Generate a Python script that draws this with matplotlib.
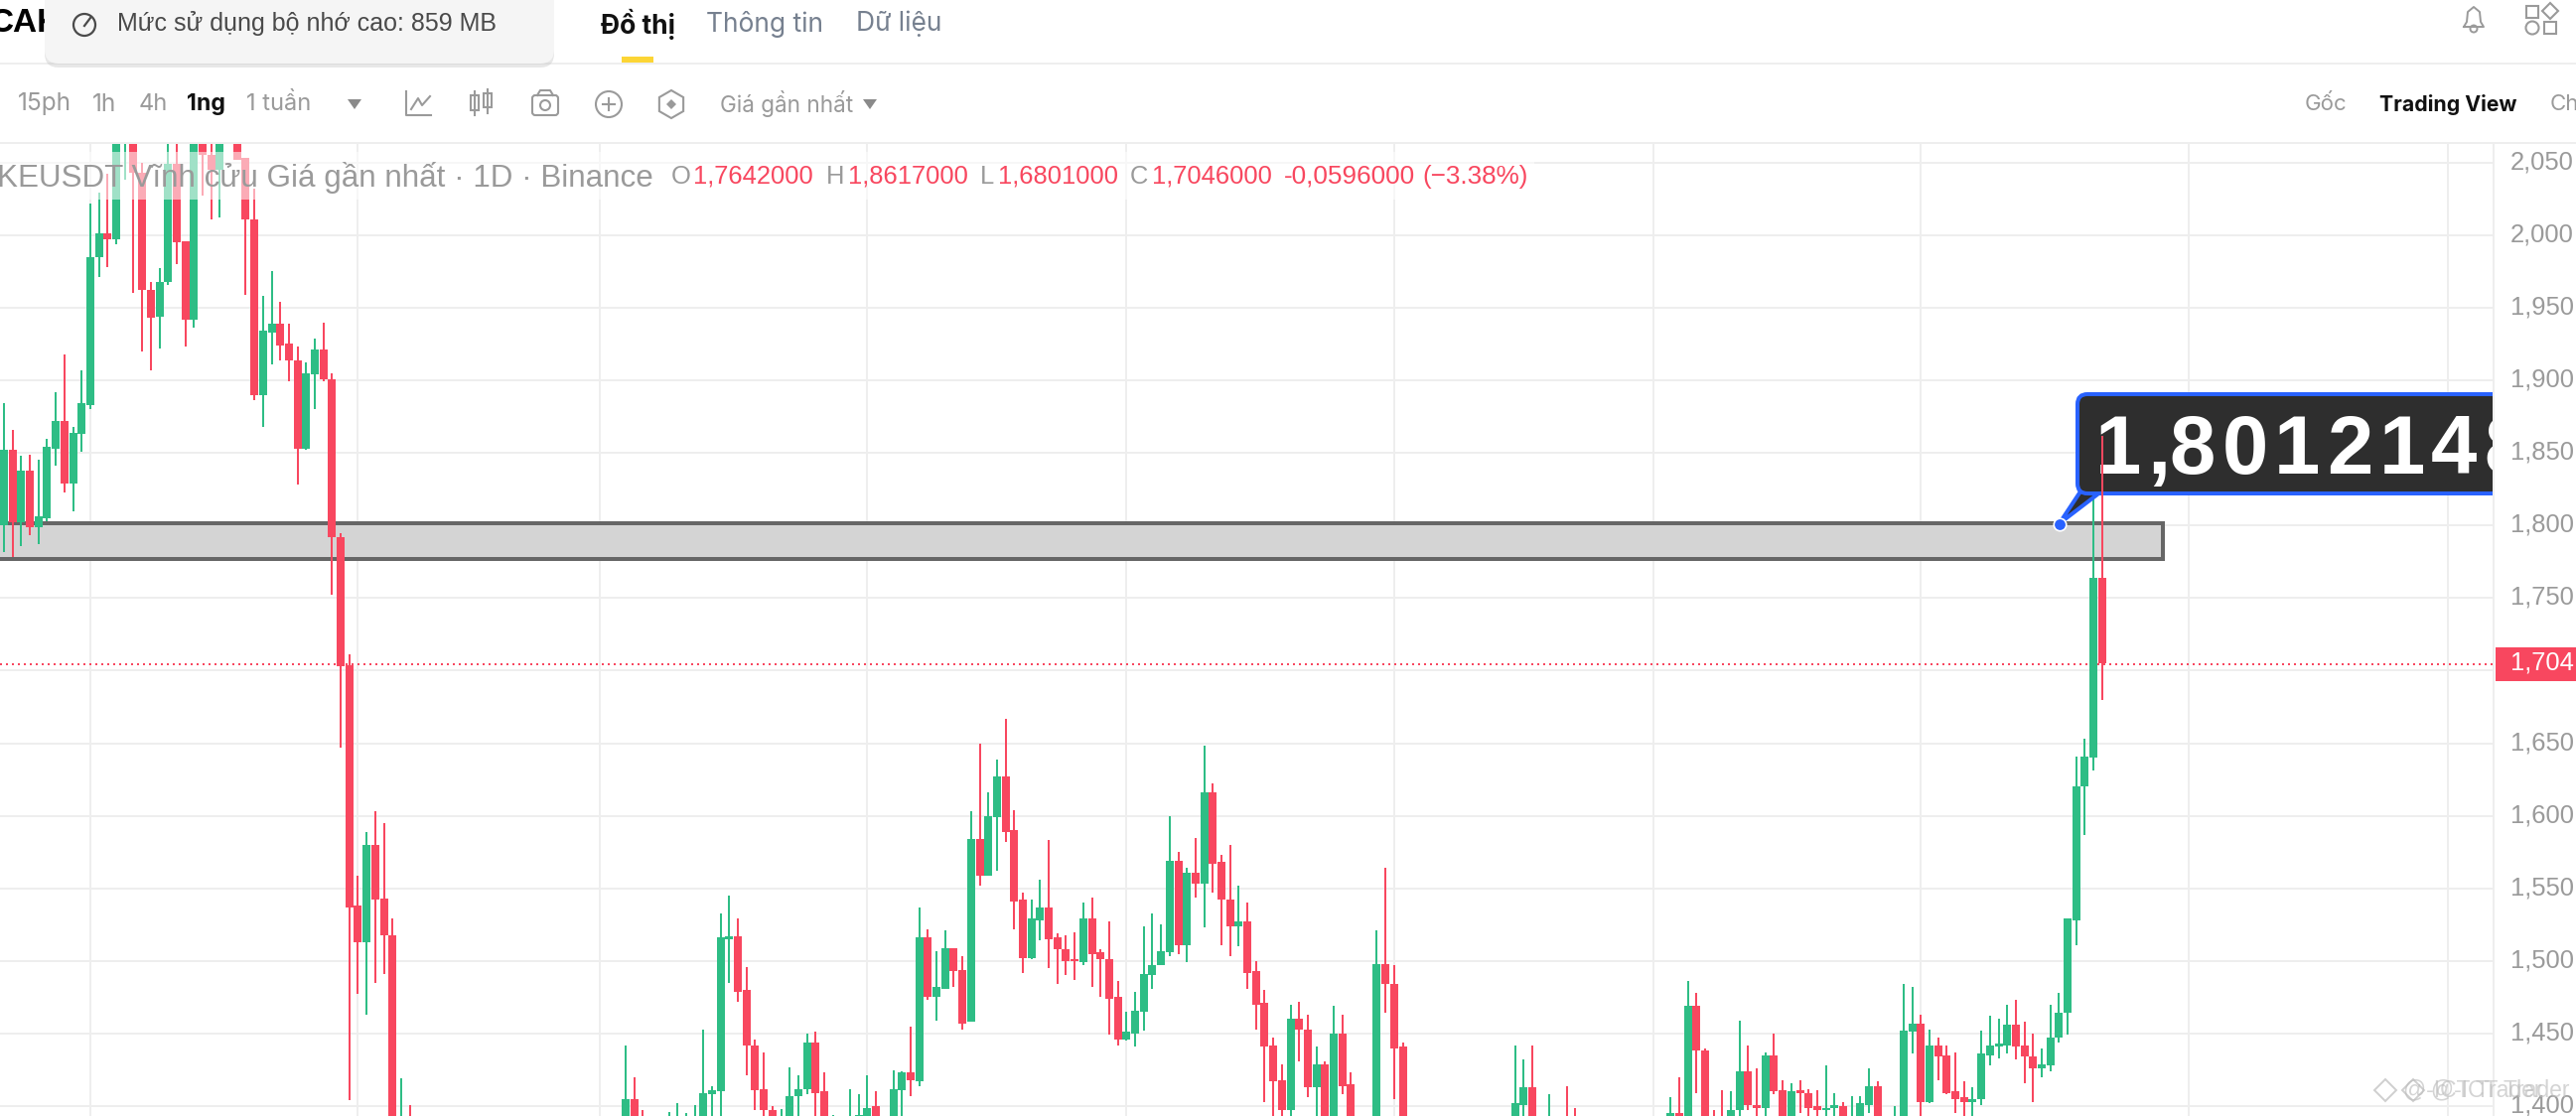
import matplotlib
matplotlib.use("Agg")
import matplotlib.pyplot as plt
from matplotlib.patches import Rectangle, FancyBboxPatch, Circle, Polygon, RegularPolygon
from matplotlib.transforms import ScaledTranslation

plt.rcParams["font.family"] = ["Liberation Sans", "DejaVu Sans"]

# daily candles, prices in axis units (1,800 = 1.8 USDT)
days = [0, 1, 2, 3, 4, 5, 6, 7, 8, 9, 10, 11, 12, 13, 14, 15, 16, 17, 18, 19,
        20, 21, 22, 23, 24, 25, 27, 28, 29, 30, 31, 32, 33, 34, 35, 36, 37, 38, 39, 40,
        41, 42, 43, 44, 45, 46, 47, 72, 73, 74, 77, 78, 79, 80, 81, 82, 83, 84, 85, 86,
        87, 88, 89, 90, 91, 92, 93, 94, 95, 96, 98, 99, 100, 101, 103, 104, 105, 106, 107, 108,
        109, 110, 111, 112, 113, 114, 115, 116, 117, 118, 119, 120, 121, 122, 123, 124, 125, 126, 127, 128,
        129, 130, 131, 132, 133, 134, 135, 136, 137, 138, 139, 140, 141, 142, 143, 144, 145, 146, 147, 148,
        149, 150, 151, 152, 153, 154, 155, 156, 159, 160, 161, 162, 175, 176, 177, 179, 181, 182, 193, 194,
        195, 196, 197, 198, 199, 200, 201, 202, 203, 204, 205, 206, 207, 208, 209, 210, 211, 212, 213, 214,
        215, 216, 217, 219, 220, 221, 222, 223, 224, 225, 226, 227, 228, 229, 230, 231, 232, 233, 234, 235,
        236, 237, 238, 239, 240, 241, 242, 243]
opens = [1800, 1852, 1802, 1838, 1799, 1805, 1853, 1872, 1829, 1863, 1883, 1985, 2001, 1997, 2075, 2090, 2043, 1962, 1944, 1968,
         2049, 1996, 1942, 2075, 2055, 2045, 2075, 2053, 2011, 1890, 1933, 1939, 1925, 1914, 1853, 1904, 1921, 1901, 1792, 1704,
         1538, 1513, 1580, 1543, 1518, 1355, 1390, 1385, 1405, 1388, 1370, 1370, 1370, 1370, 1385, 1408, 1410, 1515, 1517, 1480,
         1442, 1412, 1397, 1375, 1385, 1407, 1412, 1444, 1410, 1375, 1375, 1392, 1385, 1400, 1385, 1411, 1423, 1417, 1516, 1475,
         1481, 1509, 1494, 1458, 1584, 1559, 1599, 1627, 1590, 1542, 1502, 1528, 1537, 1516, 1508, 1501, 1499, 1529, 1506, 1501,
         1475, 1446, 1450, 1465, 1490, 1497, 1506, 1569, 1511, 1561, 1553, 1616, 1568, 1542, 1524, 1527, 1493, 1471, 1442, 1418,
         1397, 1460, 1453, 1413, 1429, 1385, 1450, 1415, 1385, 1498, 1484, 1441, 1385, 1401, 1413, 1375, 1385, 1385, 1385, 1395,
         1385, 1469, 1438, 1385, 1385, 1385, 1397, 1424, 1401, 1399, 1435, 1411, 1385, 1411, 1409, 1400, 1397, 1399, 1400, 1375,
         1385, 1401, 1414, 1375, 1385, 1451, 1457, 1403, 1442, 1435, 1410, 1406, 1403, 1405, 1435, 1441, 1442, 1456, 1442, 1434,
         1426, 1428, 1447, 1464, 1528, 1620, 1640, 1764]
highs = [1884, 1866, 1848, 1849, 1845, 1860, 1892, 1918, 1868, 1907, 2022, 2029, 2042, 2090, 2110, 2110, 2050, 1968, 1977, 2075,
         2075, 1996, 2090, 2090, 2075, 2085, 2090, 2053, 2032, 1958, 1975, 1954, 1939, 1923, 1912, 1929, 1940, 1905, 1795, 1711,
         1559, 1589, 1603, 1595, 1529, 1419, 1401, 1442, 1420, 1397, 1396, 1402, 1395, 1401, 1453, 1414, 1533, 1545, 1529, 1496,
         1446, 1437, 1400, 1398, 1427, 1421, 1450, 1451, 1423, 1394, 1412, 1408, 1421, 1410, 1425, 1424, 1455, 1537, 1522, 1507,
         1521, 1509, 1503, 1603, 1650, 1616, 1639, 1667, 1604, 1547, 1542, 1556, 1583, 1519, 1518, 1520, 1540, 1544, 1508, 1527,
         1486, 1465, 1479, 1524, 1533, 1525, 1600, 1575, 1564, 1585, 1648, 1622, 1573, 1580, 1552, 1540, 1500, 1480, 1447, 1429,
         1470, 1472, 1463, 1441, 1431, 1469, 1463, 1423, 1521, 1564, 1497, 1444, 1442, 1432, 1442, 1408, 1414, 1399, 1406, 1420,
         1486, 1478, 1440, 1397, 1411, 1410, 1459, 1442, 1426, 1437, 1450, 1418, 1416, 1418, 1412, 1411, 1428, 1409, 1403, 1407,
         1407, 1426, 1417, 1400, 1484, 1482, 1463, 1453, 1447, 1442, 1437, 1417, 1413, 1452, 1462, 1460, 1470, 1473, 1458, 1450,
         1440, 1470, 1478, 1529, 1641, 1653, 1835, 1862]
lows = [1782, 1778, 1786, 1793, 1787, 1803, 1841, 1823, 1810, 1851, 1880, 1971, 1978, 1994, 2038, 1960, 1920, 1907, 1922, 1966,
        1980, 1923, 1936, 2027, 2011, 2012, 2052, 1959, 1886, 1868, 1911, 1914, 1899, 1828, 1852, 1880, 1899, 1752, 1647, 1404,
        1477, 1463, 1485, 1491, 1350, 1340, 1360, 1375, 1375, 1370, 1360, 1360, 1360, 1360, 1380, 1380, 1385, 1485, 1472, 1421,
        1397, 1388, 1380, 1365, 1375, 1385, 1408, 1385, 1380, 1365, 1365, 1380, 1380, 1380, 1380, 1385, 1407, 1414, 1473, 1459,
        1481, 1482, 1453, 1458, 1552, 1559, 1562, 1582, 1522, 1492, 1501, 1514, 1495, 1484, 1490, 1487, 1497, 1482, 1475, 1449,
        1442, 1445, 1441, 1452, 1481, 1497, 1503, 1505, 1499, 1544, 1523, 1547, 1511, 1503, 1510, 1481, 1453, 1403, 1385, 1385,
        1388, 1431, 1406, 1385, 1380, 1380, 1408, 1380, 1380, 1464, 1405, 1380, 1380, 1385, 1380, 1365, 1365, 1365, 1380, 1380,
        1380, 1409, 1380, 1365, 1365, 1380, 1385, 1397, 1385, 1385, 1408, 1380, 1380, 1395, 1385, 1385, 1385, 1385, 1380, 1365,
        1380, 1395, 1380, 1365, 1380, 1436, 1385, 1402, 1418, 1408, 1395, 1385, 1385, 1401, 1428, 1433, 1436, 1432, 1416, 1403,
        1420, 1424, 1444, 1449, 1511, 1587, 1631, 1680]
closes = [1852, 1802, 1838, 1799, 1806, 1854, 1872, 1829, 1864, 1884, 1985, 2001, 1997, 2072, 2090, 2043, 1962, 1943, 1968, 2049,
          1995, 1942, 2075, 2055, 2045, 2070, 2052, 2011, 1890, 1934, 1939, 1924, 1914, 1853, 1905, 1921, 1901, 1792, 1703, 1537,
          1513, 1580, 1542, 1518, 1360, 1385, 1370, 1405, 1385, 1375, 1385, 1385, 1385, 1385, 1409, 1411, 1516, 1517, 1479, 1442,
          1411, 1397, 1388, 1388, 1407, 1412, 1444, 1409, 1385, 1385, 1388, 1394, 1399, 1385, 1412, 1423, 1418, 1516, 1475, 1482,
          1509, 1493, 1457, 1584, 1559, 1600, 1627, 1589, 1541, 1502, 1529, 1537, 1515, 1508, 1500, 1500, 1529, 1505, 1501, 1474,
          1446, 1451, 1466, 1491, 1497, 1507, 1569, 1511, 1561, 1553, 1616, 1567, 1542, 1524, 1527, 1492, 1470, 1441, 1417, 1397,
          1460, 1453, 1413, 1429, 1385, 1450, 1414, 1385, 1498, 1484, 1440, 1385, 1402, 1413, 1385, 1385, 1375, 1375, 1395, 1385,
          1469, 1438, 1385, 1375, 1375, 1397, 1424, 1401, 1399, 1435, 1410, 1385, 1410, 1409, 1399, 1397, 1399, 1401, 1385, 1385,
          1402, 1414, 1385, 1385, 1452, 1457, 1403, 1442, 1434, 1409, 1405, 1403, 1405, 1436, 1442, 1443, 1456, 1441, 1434, 1426,
          1429, 1447, 1464, 1529, 1620, 1641, 1764, 1705]

month_starts = [10, 41, 69, 100, 130, 161, 191, 222, 253, 283]
price_ticks = [1400, 1450, 1500, 1550, 1600, 1650, 1700, 1750, 1800, 1850, 1900, 1950, 2000, 2050]
zone_low = 1777
zone_high = 1801.5
zone_end = 250
last_price = 1704.6

legend_ohlc = [("O", "1,7642000"), ("H", "1,8617000"), ("L", "1,6801000"), ("C", "1,7046000")]
callout_label = "1,8012148"

GREEN = "#2EBD85"
RED = "#F8475F"
GRID = "#EEEEEE"
GREY = "#9A9A9A"
PX = 0.72  # one pixel in points at dpi 100

fig = plt.figure(figsize=(25.94, 11.24), dpi=100)
fig.patch.set_facecolor("white")

ax = fig.add_axes([0, 0, 2511 / 2594, 979 / 1124])
ax.set_xlim(-0.46, 288.33)
ax.set_ylim(1393.2, 2062.8)
ui = fig.add_axes([0, 0, 1, 1], zorder=5)
ui.set_xlim(0, 2594)
ui.set_ylim(1124, 0)
ui.axis("off")
ui.patch.set_alpha(0)

# price chart
for s in ax.spines.values():
    s.set_visible(False)
ax.set_xticks(month_starts)
ax.set_yticks(price_ticks)
ax.set_yticklabels([f"{p // 1000},{p % 1000:03d}" for p in price_ticks], fontsize=18.4, color=GREY)
ax.yaxis.tick_right()
ax.tick_params(axis="y", length=0, pad=12)
ax.tick_params(axis="x", length=0, labelbottom=False)
ax.grid(True, color=GRID, linewidth=2 * PX)
ax.set_axisbelow(True)
for lab in ax.get_yticklabels():
    lab.set_transform(lab.get_transform() + ScaledTranslation(0, 3 / 100, fig.dpi_scale_trans))

ax.add_patch(Rectangle((-20, zone_low), zone_end + 20, zone_high - zone_low, facecolor="#D4D4D4",
                       edgecolor="#666666", linewidth=4 * PX, zorder=1.5))
ax.axhline(last_price, color=RED, linewidth=2 * PX, linestyle=(0, (1, 2)), zorder=1.8)

for d, o, h, l, c in zip(days, opens, highs, lows, closes):
    col = GREEN if c >= o else RED
    z = 7 if d == days[-1] else 3
    ax.vlines(d, l, h, color=col, linewidth=2 * PX, zorder=z)
    ax.bar(d, abs(c - o), bottom=min(o, c), width=0.92, color=col, linewidth=0, zorder=z)

# callout box over the zone
tr = ui.transData
ax.add_patch(Polygon([(2095, 495), (2073.5, 527.5), (2116, 495)], closed=True, transform=tr,
                     facecolor="#2E2E2E", edgecolor="#2962FF", linewidth=4 * PX, zorder=5))
ax.add_patch(FancyBboxPatch((2092, 397), 500, 100, boxstyle="round,pad=0,rounding_size=10", transform=tr,
                            facecolor="#2E2E2E", edgecolor="#2962FF", linewidth=4 * PX, zorder=5))
pen = 2110
for ch in callout_label:
    ax.text(pen, 477, ch, transform=tr, color="white", fontsize=60, fontweight="bold",
            va="baseline", ha="left", zorder=6, clip_on=True)
    pen += 22 if ch == "," else 52.7
ax.plot([2073.5], [527.5], transform=tr, marker="o", markersize=9, color="#2962FF",
        markeredgecolor="white", markeredgewidth=1.2, zorder=6, clip_on=False)

# legend strip above the candles
ui.add_patch(Rectangle((0, 153), 1545, 48, facecolor="white", alpha=0.55, linewidth=0))
ui.text(-3, 179, "KEUSDT Vĩnh cửu Giá gần nhất · 1D · Binance", fontsize=22.6, color=GREY, va="center")
ohlc_x = [676, 832, 987, 1138]
value_gap = [22, 22, 18, 22]
for x, gap, (k, v) in zip(ohlc_x, value_gap, legend_ohlc):
    ui.text(x, 178, k, fontsize=18.4, color=GREY, va="center")
    ui.text(x + gap, 178, v, fontsize=18.4, color=RED, va="center")
ui.text(1293, 178, "-0,0596000", fontsize=18.8, color=RED, va="center")
ui.text(1432, 178, "(−3.38%)", fontsize=18.8, color=RED, va="center")

# last price tag and axis separator
ui.add_patch(Rectangle((2513, 652), 81, 34, facecolor=RED, linewidth=0))
ui.text(2528, 668, "1,704", fontsize=18.4, color="white", va="center")
ui.plot([2511, 2511], [145, 1124], color=GRID, linewidth=2 * PX)

# header
ui.add_patch(Rectangle((0, 0), 2594, 144, facecolor="white", linewidth=0, zorder=0))
ui.plot([0, 2594], [64, 64], color=GRID, linewidth=2 * PX, zorder=1)
ui.plot([0, 2594], [144, 144], color=GRID, linewidth=2 * PX, zorder=1)
ui.text(-10, 24, "CAKE", fontsize=24, fontweight="bold", color="black", va="center", zorder=1)
ui.text(605, 24, "Đồ thị", fontsize=19, fontweight="bold", color="#111111", va="center", family="Inter")
ui.text(711, 24, "Thông tin", fontsize=19, color="#76808F", va="center", family="Inter")
ui.text(862, 24, "Dữ liệu", fontsize=19, color="#76808F", va="center", family="Inter")
ui.add_patch(Rectangle((626, 57), 32, 6, facecolor="#FCD535", linewidth=0))

# memory tooltip
ui.add_patch(FancyBboxPatch((45, -30), 513, 98, boxstyle="round,pad=0,rounding_size=14",
                            facecolor="#BBBBBB", alpha=0.35, linewidth=0, zorder=2))
ui.add_patch(FancyBboxPatch((45, -30), 513, 94, boxstyle="round,pad=0,rounding_size=14",
                            facecolor="#F5F5F5", linewidth=0, zorder=3))
ui.add_patch(Circle((85, 25), 11, facecolor="none", edgecolor="#4A4A4A", linewidth=1.6, zorder=4))
ui.plot([85, 91], [26, 18], color="#4A4A4A", linewidth=1.6, zorder=4)
ui.text(118, 24, "Mức sử dụng bộ nhớ cao: 859 MB", fontsize=18, color="#4A4A4A", va="center", zorder=4)

# toolbar
for x, label, col, w, size in [(18, "15ph", GREY, "normal", 17.6), (93, "1h", GREY, "normal", 17.6),
                               (140, "4h", GREY, "normal", 17), (188, "1ng", "#111111", "bold", 16.6),
                               (248, "1 tuần", GREY, "normal", 17),
                               (725, "Giá gần nhất", GREY, "normal", 16.2), (2321, "Gốc", GREY, "normal", 16),
                               (2396, "Trading View", "#111111", "bold", 15.3), (2568, "Chi", GREY, "normal", 16)]:
    ui.text(x, 105, label, fontsize=size, color=col, fontweight=w, va="center", family="Inter")
for x in (357, 876):
    ui.add_patch(Polygon([(x - 7, 100), (x + 7, 100), (x, 110)], facecolor="#8A8A8A", linewidth=0))

icon = "#9A9A9A"
ui.plot([409, 409, 434], [92, 116, 116], color=icon, linewidth=1.5)
ui.plot([414, 421, 425, 433], [110, 99, 106, 97], color=icon, linewidth=1.5)
for x, top, bot, ttop, tbot in [(478, 96, 111, 92, 116), (491, 94, 108, 90, 114)]:
    ui.plot([x, x], [ttop, tbot], color=icon, linewidth=1.5)
    ui.add_patch(Rectangle((x - 4, top), 8, bot - top, facecolor="white", edgecolor=icon, linewidth=1.5))
ui.add_patch(FancyBboxPatch((536, 96), 26, 20, boxstyle="round,pad=0,rounding_size=3",
                            facecolor="none", edgecolor=icon, linewidth=1.5))
ui.plot([541, 544, 554, 557], [96, 91, 91, 96], color=icon, linewidth=1.5)
ui.add_patch(Circle((549, 106), 5, facecolor="none", edgecolor=icon, linewidth=1.5))
ui.add_patch(Circle((613, 105), 13, facecolor="none", edgecolor=icon, linewidth=1.5))
ui.plot([607, 619], [105, 105], color=icon, linewidth=1.5)
ui.plot([613, 613], [99, 111], color=icon, linewidth=1.5)
ui.add_patch(RegularPolygon((676, 105), 6, radius=14, facecolor="none", edgecolor=icon, linewidth=1.5))
ui.add_patch(RegularPolygon((676, 105), 4, radius=5, facecolor=icon, linewidth=0))

# bell and apps icons
ui.plot([2481, 2484, 2485, 2491, 2497, 2498, 2501, 2481], [27, 22, 12, 7, 12, 22, 27, 27], color=icon, linewidth=1.4)
ui.add_patch(Circle((2491, 29), 3.5, facecolor="none", edgecolor=icon, linewidth=1.4))
ui.add_patch(Rectangle((2544, 6), 12, 12, facecolor="none", edgecolor=icon, linewidth=1.5))
ui.add_patch(RegularPolygon((2568, 11), 4, radius=8, facecolor="none", edgecolor=icon, linewidth=1.5))
ui.add_patch(Circle((2550, 28), 6.5, facecolor="none", edgecolor=icon, linewidth=1.5))
ui.add_patch(Rectangle((2562, 22), 12, 12, facecolor="none", edgecolor=icon, linewidth=1.5))

# watermark, posted twice with a small offset
for dx in (0, 28):
    ui.add_patch(RegularPolygon((2402 + dx, 1098), 4, radius=11, facecolor="none", edgecolor="#CFCFCF", linewidth=1.4))
    ui.text(2420 + dx, 1098, "@-ICT Trader", fontsize=16.5, color="#BDBDBD", alpha=0.65, va="center")

fig.savefig("out.png", dpi=100)
